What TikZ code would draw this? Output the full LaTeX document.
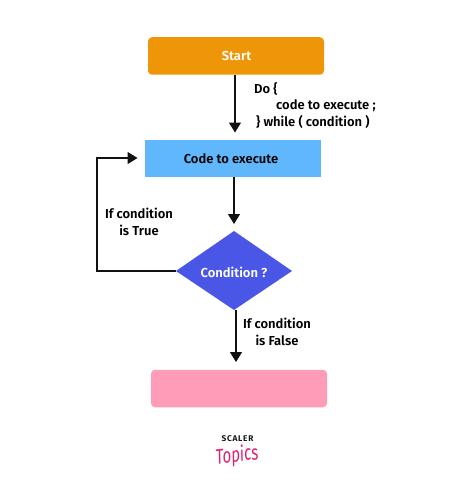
\documentclass[tikz,border=0pt]{standalone}
\usepackage{fontspec}
\setmainfont{Fira Sans}[BoldFont={Fira Sans SemiBold}]
\newfontfamily\logofont{Fira Sans}[LetterSpace=9,BoldFont={Fira Sans Bold}]
\newfontfamily\topicfont{Fira Sans}
\usetikzlibrary{arrows.meta,shapes.geometric}
\definecolor{startc}{HTML}{EF9608}
\definecolor{codec}{HTML}{60B7FB}
\definecolor{condc}{HTML}{4A57E6}
\definecolor{endc}{HTML}{FF9DB9}
\definecolor{linec}{HTML}{111111}
\definecolor{topicc}{HTML}{E0206F}
\tikzset{
  x=1pt,y=-1pt,
  boxa/.style={minimum width=176pt,minimum height=37.5pt,inner sep=0pt},
  lab/.style={font=\bfseries\fontsize{13pt}{17pt}\selectfont,text=black,inner sep=0pt},
  wlab/.style={lab,text=white},
  conn/.style={draw=linec,line width=1.3pt,-{Triangle[length=10pt,width=12pt]}},
}
\begin{document}
\begin{tikzpicture}
\useasboundingbox (0,0) rectangle (474,492);
\node[boxa,fill=startc,rounded corners=4pt] (start) at (236,56) {};
\node[wlab] (starttxt) at (236.5,56) {Start};
\node[boxa,fill=codec] (code) at (233,158.5) {};
\node[lab] (codetxt) at (231,158.5) {Code to execute};
\fill[condc] (176,271) -- (234,231) -- (292,271) -- (234,310) -- cycle;
\coordinate (cond) at (234,271);
\node[wlab] (condtxt) at (234,272) {Condition ?};
\node[boxa,fill=endc,rounded corners=4pt] (end) at (239,388.5) {};
\coordinate (startb) at (235,75);
\coordinate (codet) at (235,132.5);
\coordinate (codeb) at (234,177);
\coordinate (condt) at (234,224);
\coordinate (condb) at (236,310);
\coordinate (endt) at (236,362);
\coordinate (condl) at (176,271);
\coordinate (bendA) at (97,271);
\coordinate (bendB) at (97,158);
\coordinate (codel) at (137.5,158);
\draw[conn] (startb) -- (codet);
\draw[conn] (codeb) -- (condt);
\draw[conn] (condb) -- (endt);
\draw[conn] (condl) -- (bendA) -- (bendB) -- (codel);
\node[lab,anchor=west] (do1) at (254,89) {Do \{};
\node[lab,anchor=west] (do2) at (276,105.5) {code to execute ;};
\node[lab,anchor=west] (do3) at (256,122) {\} while ( condition )};
\node[lab,align=center] (tr) at (139,221.5) {If condition\\is True};
\node[lab,align=center] (fa) at (277,332) {If condition\\is False};
\node[font=\logofont\bfseries\fontsize{8.3pt}{9pt}\selectfont,text=black!90,inner sep=0pt] (sc) at (237.5,439) {SCALER};
\node[font=\topicfont\itshape\fontsize{21pt}{22pt}\selectfont,text=topicc,inner sep=0pt,rotate=7,xscale=0.72] (tp) at (237,456) {Topics};
\end{tikzpicture}
\end{document}
